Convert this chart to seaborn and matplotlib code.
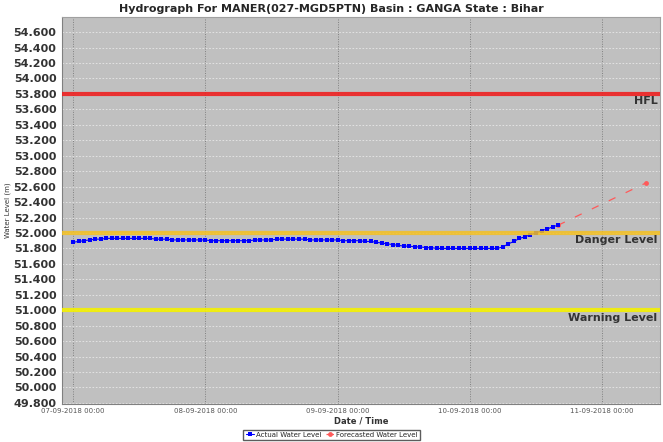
import pandas as pd
import matplotlib.pyplot as plt
import matplotlib.dates as mdates
import seaborn as sns

# hourly observed levels from 07-09-2018 00:00 up to 10-09-2018 16:00
actual_level = [
    51.88, 51.89, 51.90, 51.91, 51.92, 51.92,
    51.93, 51.93, 51.93, 51.93, 51.93, 51.93, 51.93, 51.93, 51.93,
    51.92, 51.92, 51.92,
    51.91, 51.91, 51.91, 51.91, 51.91, 51.91, 51.91,
    51.90, 51.90, 51.90, 51.90, 51.90, 51.90, 51.90, 51.90,
    51.91, 51.91, 51.91, 51.91,
    51.92, 51.92, 51.92, 51.92, 51.92, 51.92,
    51.91, 51.91, 51.91, 51.91, 51.91, 51.91,
    51.90, 51.90, 51.90, 51.90,
    51.89, 51.89, 51.88, 51.87, 51.86, 51.85, 51.84,
    51.83, 51.83, 51.82, 51.82, 51.81, 51.81,
    51.80, 51.80, 51.80, 51.80, 51.80, 51.80, 51.80, 51.80, 51.80, 51.80, 51.80, 51.80,
    51.82, 51.86, 51.89, 51.93, 51.95, 51.98, 52.00, 52.03, 52.05, 52.08, 52.10,
]
forecast_time = ['2018-09-10 16:00', '2018-09-11 08:00']
forecast_level = [52.10, 52.65]

hfl = 53.80
danger_level = 52.00
warning_level = 51.00

actual = pd.DataFrame({
    'time': pd.date_range('2018-09-07 00:00', periods=len(actual_level), freq='h'),
    'level': actual_level,
})
forecast = pd.DataFrame({'time': pd.to_datetime(forecast_time), 'level': forecast_level})

sns.set_style('white')
plt.rcParams['font.family'] = ['DejaVu Sans']

fig = plt.figure(figsize=(6.63, 4.42), dpi=100)
ax = fig.add_axes([0.0935, 0.086, 0.902, 0.8755])
ax.set_facecolor('#c0c0c0')

sns.lineplot(x='time', y='level', data=forecast, ax=ax, color='#ff5a5a', lw=0.9,
             marker='o', markersize=3.5, markeredgewidth=0, zorder=3, label='Forecasted Water Level')
ax.lines[-1].set_dashes([6, 9])
sns.lineplot(x='time', y='level', data=actual, ax=ax, color='#0000ff', lw=0.8,
             marker='s', markersize=3, markeredgewidth=0, zorder=4, label='Actual Water Level')

ax.axhline(hfl, color='#ee2020', lw=3, alpha=0.9, zorder=5)
ax.axhline(danger_level, color='#f4c020', lw=3, alpha=0.85, zorder=5)
ax.axhline(warning_level, color='#f4f000', lw=3, alpha=0.9, zorder=5)

tr = ax.get_yaxis_transform()
for lvl, name in [(hfl, 'HFL'), (danger_level, 'Danger Level'), (warning_level, 'Warning Level')]:
    ax.text(0.996, lvl - 0.03, name, transform=tr, ha='right', va='top',
            fontsize=8, fontweight='bold', color='#333333', zorder=6)

ax.set_ylim(49.786, 54.796)
ax.set_yticks([49.8 + 0.2 * i for i in range(25)])
ax.yaxis.set_major_formatter(plt.FuncFormatter(lambda v, p: f'{v:.3f}'))
ax.set_xlim(mdates.date2num(pd.Timestamp('2018-09-06 22:00')),
            mdates.date2num(pd.Timestamp('2018-09-11 10:30')))
ax.xaxis.set_major_locator(mdates.DayLocator())
ax.xaxis.set_major_formatter(mdates.DateFormatter('%d-%m-%Y %H:%M'))

ax.tick_params(axis='y', labelsize=8, colors='#333333', length=2, pad=2)
ax.tick_params(axis='x', labelsize=5, colors='#555555', length=2, pad=1)
for lbl in ax.get_yticklabels():
    lbl.set_fontweight('bold')
ax.grid(axis='y', color='#e8e8e8', ls=(0, (2, 2)), lw=0.6)
ax.grid(axis='x', color='#808080', ls=(0, (1, 1.5)), lw=0.7)
ax.set_axisbelow(True)
for side in ['top', 'right']:
    ax.spines[side].set_color('#a0a0a0')
for side in ['left', 'bottom']:
    ax.spines[side].set_color('#808080')

fig.text(0.5, 0.99, 'Hydrograph For MANER(027-MGD5PTN) Basin : GANGA State : Bihar',
         ha='center', va='top', fontsize=8, fontweight='bold')
ax.set_xlabel('Date / Time', fontsize=6, fontweight='bold', color='#333333', labelpad=2)
ax.set_ylabel('Water Level (m)', fontsize=5, color='#333333', labelpad=2)

handles, labels = ax.get_legend_handles_labels()
ax.legend_.remove()
fig.legend(handles[::-1], labels[::-1], loc='lower center', bbox_to_anchor=(0.5, 0.0), ncol=2,
           fontsize=5, frameon=True, fancybox=False, edgecolor='#333333', handlelength=1.2,
           handletextpad=0.3, columnspacing=0.6, borderpad=0.3, borderaxespad=0.3)

plt.savefig('out.png', dpi=100)
